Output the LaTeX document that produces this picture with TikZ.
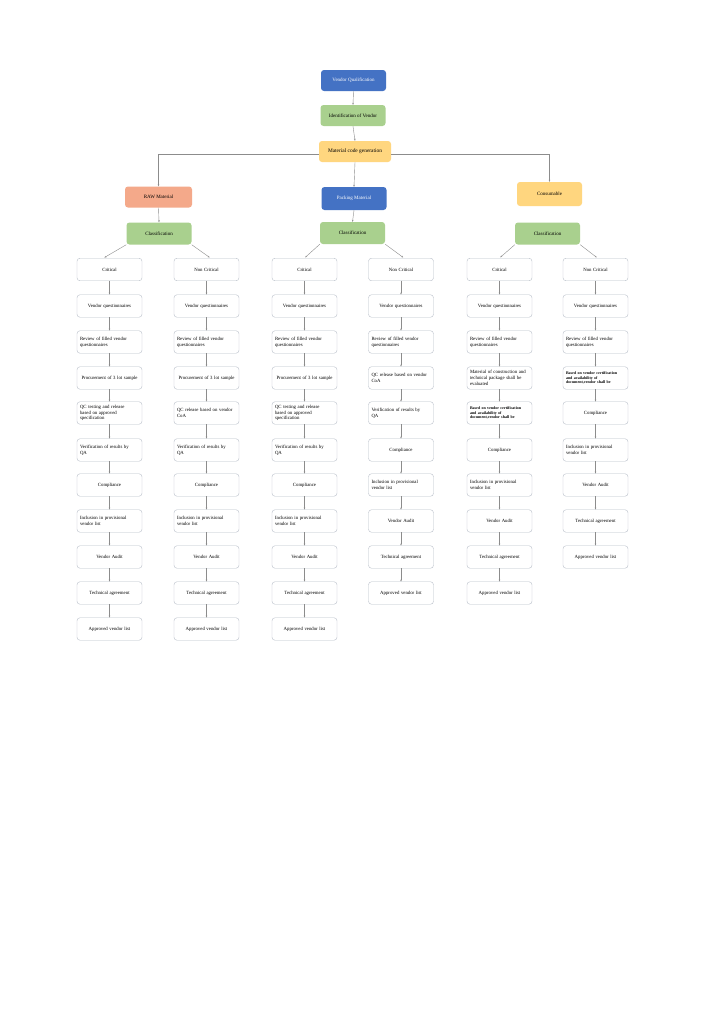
\documentclass[tikz,border=0pt]{standalone}
\usepackage{fontspec}
\setmainfont{Liberation Serif}
\usetikzlibrary{arrows.meta}
\definecolor{qblue}{HTML}{4472C4}
\definecolor{qgreen}{HTML}{A9D08E}
\definecolor{qyellow}{HTML}{FFD67F}
\definecolor{qsalmon}{HTML}{F4A98A}
\definecolor{qline}{HTML}{8C8C8C}
\definecolor{qborder}{HTML}{B8BEC8}
\begin{document}
\begin{tikzpicture}[x=1pt,y=-1pt,
  stepbox/.style={draw=qborder, line width=0.4pt, rounded corners=3pt, minimum width=65pt, minimum height=22.5pt, text width=59pt, align=center, inner sep=2pt, font=\fontsize{4.8}{5.7}\selectfont},
  lbox/.style={stepbox, align=left},
  bbox/.style={stepbox, align=left, font=\fontsize{4}{4.8}\selectfont\bfseries},
  topbox/.style={rounded corners=3pt, minimum width=65pt, minimum height=21pt, inner sep=2pt, font=\fontsize{5}{6}\selectfont},
  conn/.style={draw=qline, line width=0.4pt, -{Stealth[length=2pt,width=1.6pt]}}]
\useasboundingbox (0,0) rectangle (719,1017);
\fill[white] (0,0) rectangle (719,1017);

% top level
\node[topbox, fill=qblue, text=white] (vq) at (353.5,80.5) {Vendor Qualification};
\node[topbox, fill=qgreen] (iv) at (353,115.5) {Identification of Vendor};
\node[topbox, fill=qyellow, minimum width=72pt, font=\fontsize{5.4}{6.4}\selectfont] (mcg) at (355,151.5) {Material code generation};
\node[topbox, fill=qsalmon, minimum width=67pt] (raw) at (158.5,197) {RAW Material};
\node[topbox, fill=qblue, text=white, minimum height=23pt] (pack) at (354,198.5) {Packing Material};
\node[topbox, fill=qyellow, minimum height=24pt] (cons) at (549.5,194) {Consumable};
\node[topbox, fill=qgreen, minimum height=22pt] (cla) at (159,233.5) {Classification};
\node[topbox, fill=qgreen, minimum height=22pt] (clb) at (352.5,233) {Classification};
\node[topbox, fill=qgreen, minimum height=22pt] (clc) at (547.5,233.5) {Classification};

% column 1
\node[stepbox] (c1r1) at (109.5,269.5) {Critical};
\node[stepbox] (c1r2) at (109.5,306) {Vendor questionnaires};
\node[lbox] (c1r3) at (109.5,342) {Review of filled vendor\\questionnaires};
\node[stepbox] (c1r4) at (109.5,378) {Procurement of 3 lot sample};
\node[lbox] (c1r5) at (109.5,413) {QC testing and release\\based on approved\\specification};
\node[lbox] (c1r6) at (109.5,450) {Verification of results by\\QA};
\node[stepbox] (c1r7) at (109.5,485) {Compliance};
\node[lbox] (c1r8) at (109.5,521) {Inclusion in provisional\\vendor list};
\node[stepbox] (c1r9) at (109.5,557) {Vendor Audit};
\node[stepbox] (c1r10) at (109.5,593) {Technical agreement};
\node[stepbox] (c1r11) at (109.5,629) {Approved vendor list};

% column 2
\node[stepbox] (c2r1) at (206.5,269.5) {Non Critical};
\node[stepbox] (c2r2) at (206.5,306) {Vendor questionnaires};
\node[lbox] (c2r3) at (206.5,342) {Review of filled vendor\\questionnaires};
\node[stepbox] (c2r4) at (206.5,378) {Procurement of 3 lot sample};
\node[lbox] (c2r5) at (206.5,413) {QC release based on vendor\\CoA};
\node[lbox] (c2r6) at (206.5,450) {Verification of results by\\QA};
\node[stepbox] (c2r7) at (206.5,485) {Compliance};
\node[lbox] (c2r8) at (206.5,521) {Inclusion in provisional\\vendor list};
\node[stepbox] (c2r9) at (206.5,557) {Vendor Audit};
\node[stepbox] (c2r10) at (206.5,593) {Technical agreement};
\node[stepbox] (c2r11) at (206.5,629) {Approved vendor list};

% column 3
\node[stepbox] (c3r1) at (304.5,269.5) {Critical};
\node[stepbox] (c3r2) at (304.5,306) {Vendor questionnaires};
\node[lbox] (c3r3) at (304.5,342) {Review of filled vendor\\questionnaires};
\node[stepbox] (c3r4) at (304.5,378) {Procurement of 3 lot sample};
\node[lbox] (c3r5) at (304.5,413) {QC testing and release\\based on approved\\specification};
\node[lbox] (c3r6) at (304.5,450) {Verification of results by\\QA};
\node[stepbox] (c3r7) at (304.5,485) {Compliance};
\node[lbox] (c3r8) at (304.5,521) {Inclusion in provisional\\vendor list};
\node[stepbox] (c3r9) at (304.5,557) {Vendor Audit};
\node[stepbox] (c3r10) at (304.5,593) {Technical agreement};
\node[stepbox] (c3r11) at (304.5,629) {Approved vendor list};

% column 4
\node[stepbox] (c4r1) at (401,269.5) {Non Critical};
\node[stepbox] (c4r2) at (401,306) {Vendor questionnaires};
\node[lbox] (c4r3) at (401,342) {Review of filled vendor\\questionnaires};
\node[lbox] (c4r4) at (401,378) {QC release based on vendor\\CoA};
\node[lbox] (c4r5) at (401,413) {Verification of results by\\QA};
\node[stepbox] (c4r6) at (401,450) {Compliance};
\node[lbox] (c4r7) at (401,485) {Inclusion in provisional\\vendor list};
\node[stepbox] (c4r8) at (401,521) {Vendor Audit};
\node[stepbox] (c4r9) at (401,557) {Technical agreement};
\node[stepbox] (c4r10) at (401,593) {Approved vendor list};

% column 5
\node[stepbox] (c5r1) at (499.5,269.5) {Critical};
\node[stepbox] (c5r2) at (499.5,306) {Vendor questionnaires};
\node[lbox] (c5r3) at (499.5,342) {Review of filled vendor\\questionnaires};
\node[lbox] (c5r4) at (499.5,378) {Material of construction and\\technical package shall be\\evaluated};
\node[bbox] (c5r5) at (499.5,413) {Based on vendor certification\\and availability of\\document,vendor shall be};
\node[stepbox] (c5r6) at (499.5,450) {Compliance};
\node[lbox] (c5r7) at (499.5,485) {Inclusion in provisional\\vendor list};
\node[stepbox] (c5r8) at (499.5,521) {Vendor Audit};
\node[stepbox] (c5r9) at (499.5,557) {Technical agreement};
\node[stepbox] (c5r10) at (499.5,593) {Approved vendor list};

% column 6
\node[stepbox] (c6r1) at (595.5,269.5) {Non Critical};
\node[stepbox] (c6r2) at (595.5,306) {Vendor questionnaires};
\node[lbox] (c6r3) at (595.5,342) {Review of filled vendor\\questionnaires};
\node[bbox] (c6r4) at (595.5,378) {Based on vendor certification\\and availability of\\document,vendor shall be};
\node[stepbox] (c6r5) at (595.5,413) {Compliance};
\node[lbox] (c6r6) at (595.5,450) {Inclusion in provisional\\vendor list};
\node[stepbox] (c6r7) at (595.5,485) {Vendor Audit};
\node[stepbox] (c6r8) at (595.5,521) {Technical agreement};
\node[stepbox] (c6r9) at (595.5,557) {Approved vendor list};

% top connectors
\draw[conn] (vq.south) -- (iv.north);
\draw[conn] (iv.south) -- (mcg.north);
\draw[conn] ([yshift=-2.5pt]mcg.west) -| (raw.north);
\draw[conn] ([yshift=-3pt]mcg.east) -| (cons.north);
\draw[conn] (mcg.south) -- (pack.north);
\draw[conn] (raw.south) -- (cla.north);
\draw[conn] (pack.south) -- (clb.north);

% classification to children
\draw[conn, shorten >=1pt] (cla.south west) -- ([xshift=-6pt]c1r1.north);
\draw[conn, shorten >=1pt] (cla.south east) -- ([xshift=4pt]c2r1.north);
\draw[conn, shorten >=1pt] (clb.south west) -- (c3r1.north);
\draw[conn, shorten >=1pt] (clb.south east) -- ([xshift=3pt]c4r1.north);
\draw[conn, shorten >=1pt] (clc.south west) -- (c5r1.north);
\draw[conn, shorten >=1pt] (clc.south east) -- ([xshift=2pt]c6r1.north);

% column connectors
\foreach \col/\last in {1/10,2/10,3/10,4/9,5/9,6/8} {
  \foreach \i in {1,...,\last} {
    \pgfmathtruncatemacro\nxt{\i+1}
    \draw[conn] (c\col r\i.south) -- (c\col r\nxt.north);
  }
}
\end{tikzpicture}
\end{document}
